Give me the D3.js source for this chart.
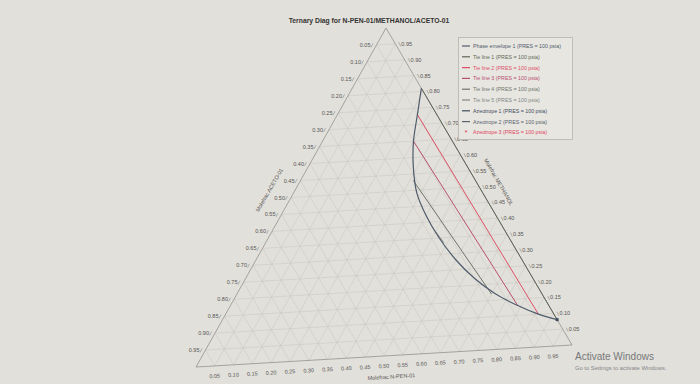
<!DOCTYPE html>
<html>
<head>
<meta charset="utf-8">
<script src="https://cdn.jsdelivr.net/npm/d3@7"></script>
<style>
body { margin: 0; background: #e2e0da; }
svg { display: block; font-family: 'Liberation Sans', Arial, sans-serif; }
</style>
</head>
<body>
<svg></svg>
<script>
const width = 700
const height = 384

const title = 'Ternary Diag for N-PEN-01/METHANOL/ACETO-01'
const axisTitles = ['Molefrac N-PEN-01', 'Molefrac METHANOL', 'Molefrac ACETO-01']
const tickValues = [0.05, 0.10, 0.15, 0.20, 0.25, 0.30, 0.35, 0.40, 0.45, 0.50,
	0.55, 0.60, 0.65, 0.70, 0.75, 0.80, 0.85, 0.90, 0.95]

// phase envelope, mole fractions (aceto = 1 - npen - meth)
const envNpen = [0.19, 0.22, 0.25, 0.29, 0.34, 0.40, 0.47, 0.55, 0.63, 0.71, 0.79, 0.86, 0.92]
const envMeth = [0.81, 0.73, 0.65, 0.57, 0.49, 0.42, 0.35, 0.28, 0.22, 0.17, 0.13, 0.10, 0.08]

// tie lines: [npen, meth] at each end
const tieNames = ['Tie line 1', 'Tie line 2', 'Tie line 3', 'Tie line 4', 'Tie line 5']
const tieStart = [[0.19, 0.81], [0.22, 0.73], [0.25, 0.65], [0.31, 0.53], [0.45, 0.37]]
const tieEnd = [[0.92, 0.08], [0.86, 0.10], [0.79, 0.13], [0.70, 0.17], [0.49, 0.335]]
const tieColors = ['#5d6656', '#de4f68', '#b9506f', '#6f746a', '#848884']

const azeoNames = ['Azeotrope 1', 'Azeotrope 2', 'Azeotrope 3']
const azeoColors = ['#3e4b5e', '#58626c', '#e0455e']
const azeoPoints = [[0.92, 0.08]]

const envColor = '#4f5b6b'
const suffix = ' (PRES = 100 psia)'

const corner = { aceto: [196, 367], npen: [572, 345], meth: [386, 28] }

const svg = d3.select('svg')
	.attr('width', width)
	.attr('height', height)

const xN = d3.scaleLinear().domain([0, 1]).range([0, corner.npen[0] - corner.aceto[0]])
const yN = d3.scaleLinear().domain([0, 1]).range([0, corner.npen[1] - corner.aceto[1]])
const xM = d3.scaleLinear().domain([0, 1]).range([0, corner.meth[0] - corner.aceto[0]])
const yM = d3.scaleLinear().domain([0, 1]).range([0, corner.meth[1] - corner.aceto[1]])

function pos(n, m) {
	return [corner.aceto[0] + xN(n) + xM(m), corner.aceto[1] + yN(n) + yM(m)]
}

const line = d3.line()

// grid
const grid = svg.append('g')
	.attr('stroke', '#cbc9c2')
	.attr('stroke-width', 0.6)
	.attr('fill', 'none')
tickValues.forEach(function (v) {
	grid.append('path').attr('d', line([pos(0, v), pos(1 - v, v)]))
	grid.append('path').attr('d', line([pos(v, 0), pos(v, 1 - v)]))
	grid.append('path').attr('d', line([pos(1 - v, 0), pos(0, 1 - v)]))
})

svg.append('path')
	.attr('d', line([pos(0, 0), pos(1, 0), pos(0, 1)]) + 'Z')
	.attr('fill', 'none')
	.attr('stroke', '#9c9b96')
	.attr('stroke-width', 0.9)

// tick labels
const labels = svg.append('g')
	.attr('font-size', 5.5)
	.attr('fill', '#555')
const ticks = svg.append('g')
	.attr('stroke', '#8a8985')
	.attr('stroke-width', 0.6)

tickValues.forEach(function (v) {
	const l = pos(0, 1 - v)
	labels.append('text')
		.attr('x', l[0] - 6)
		.attr('y', l[1] + 2)
		.attr('text-anchor', 'end')
		.text(v.toFixed(2))
	ticks.append('path').attr('d', line([[l[0] - 5.5, l[1] + 2.5], [l[0] - 3.5, l[1] - 1.5]]))

	const r = pos(1 - v, v)
	labels.append('text')
		.attr('x', r[0] + 6)
		.attr('y', r[1] + 2)
		.text(v.toFixed(2))
	ticks.append('path').attr('d', line([[r[0] + 3.5, r[1] - 1.5], [r[0] + 5.5, r[1] + 2.5]]))

	const b = pos(v, 0)
	labels.append('text')
		.attr('transform', 'translate(' + b[0] + ',' + (b[1] + 12) + ') rotate(-3.3)')
		.attr('text-anchor', 'middle')
		.text(v.toFixed(2))
})

// axis titles
const bt = pos(0.52, 0)
svg.append('text')
	.attr('transform', 'translate(' + bt[0] + ',' + (bt[1] + 23) + ') rotate(-3.3)')
	.attr('text-anchor', 'middle')
	.attr('font-size', 5.5)
	.attr('fill', '#555')
	.text(axisTitles[0])
svg.append('text')
	.attr('transform', 'translate(497,183) rotate(60)')
	.attr('text-anchor', 'middle')
	.attr('font-size', 5.5)
	.attr('fill', '#555')
	.text(axisTitles[1])
svg.append('text')
	.attr('transform', 'translate(271,191) rotate(-60)')
	.attr('text-anchor', 'middle')
	.attr('font-size', 5.5)
	.attr('fill', '#555')
	.text(axisTitles[2])

// tie lines
tieNames.forEach(function (name, i) {
	svg.append('path')
		.attr('d', line([pos(tieStart[i][0], tieStart[i][1]), pos(tieEnd[i][0], tieEnd[i][1])]))
		.attr('fill', 'none')
		.attr('stroke', tieColors[i])
		.attr('stroke-width', 1)
})

// phase envelope
svg.append('path')
	.attr('d', d3.line().curve(d3.curveCatmullRom)(envNpen.map(function (n, i) {
		return pos(n, envMeth[i])
	})))
	.attr('fill', 'none')
	.attr('stroke', envColor)
	.attr('stroke-width', 1.2)

// azeotropes
svg.selectAll('rect.azeo')
	.data(azeoPoints)
	.enter()
	.append('rect')
	.attr('class', 'azeo')
	.attr('x', function (d) { return pos(d[0], d[1])[0] - 1.5 })
	.attr('y', function (d) { return pos(d[0], d[1])[1] - 1.5 })
	.attr('width', 3)
	.attr('height', 3)
	.attr('fill', azeoColors[0])

// title
svg.append('text')
	.attr('x', 369)
	.attr('y', 23)
	.attr('text-anchor', 'middle')
	.attr('font-size', 6.8)
	.attr('font-weight', 'bold')
	.attr('fill', '#333')
	.text(title)

// legend
const legendItems = [{ name: 'Phase envelope 1', color: envColor }]
	.concat(tieNames.map(function (n, i) { return { name: n, color: tieColors[i] } }))
	.concat(azeoNames.map(function (n, i) { return { name: n, color: azeoColors[i], star: i === 2 } }))

const legend = svg.append('g')
legend.append('rect')
	.attr('x', 458.5)
	.attr('y', 37.5)
	.attr('width', 114)
	.attr('height', 102)
	.attr('fill', '#e7e6e1')
	.attr('stroke', '#b5b4ae')
	.attr('stroke-width', 0.8)

legendItems.forEach(function (d, i) {
	const y = 46 + i * 10.8
	if (d.star) {
		legend.append('text')
			.attr('x', 466)
			.attr('y', y + 3)
			.attr('text-anchor', 'middle')
			.attr('font-size', 8)
			.attr('fill', d.color)
			.text('*')
	} else {
		legend.append('path')
			.attr('d', line([[462, y], [470, y]]))
			.attr('stroke', d.color)
			.attr('stroke-width', 1.2)
	}
	legend.append('text')
		.attr('x', 473)
		.attr('y', y + 2)
		.attr('font-size', 5.3)
		.attr('fill', d.color)
		.text(d.name + suffix)
})

// screen watermark
svg.append('text')
	.attr('x', 575)
	.attr('y', 360)
	.attr('font-size', 10)
	.attr('fill', '#77787a')
	.text('Activate Windows')
svg.append('text')
	.attr('x', 575)
	.attr('y', 370)
	.attr('font-size', 5.8)
	.attr('fill', '#85868a')
	.text('Go to Settings to activate Windows.')
</script>
</body>
</html>
